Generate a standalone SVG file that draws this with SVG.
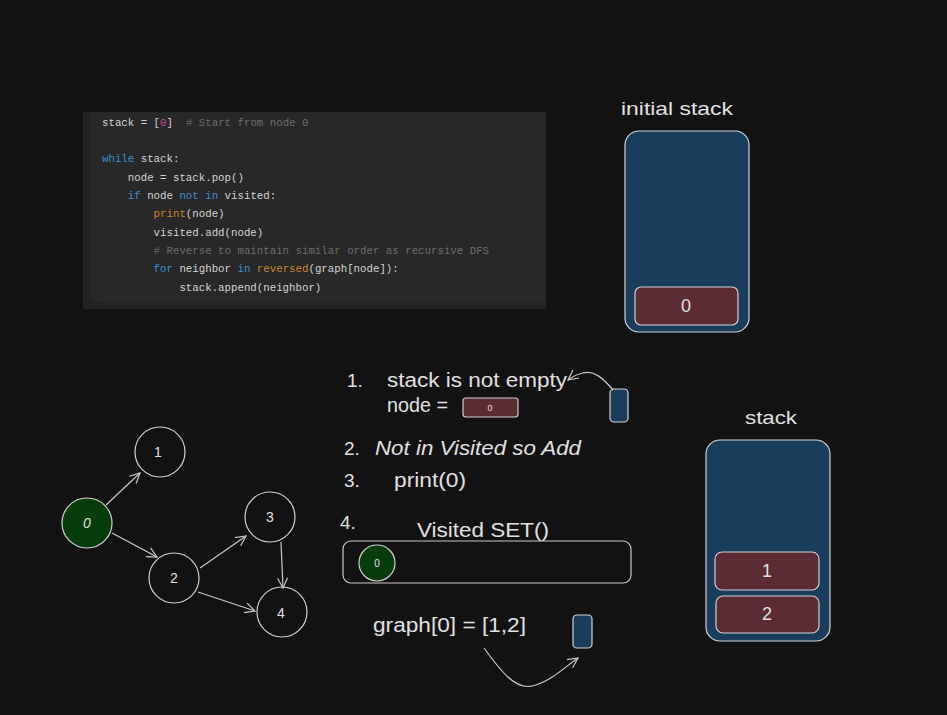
<svg xmlns="http://www.w3.org/2000/svg" width="947" height="715" viewBox="0 0 947 715">
<defs>
<style>
.hand{font-family:"Liberation Sans","Open Sans",sans-serif;fill:#e0e0e0;}
.code{font-family:"Liberation Mono","DejaVu Sans Mono",monospace;font-size:10.75px;fill:#d4d4d4;}
.kw{fill:#3d8fcf;}
.fn{fill:#c9872a;}
.num{fill:#c94f9a;}
.cm{fill:#6c6c6c;}
.stackbox{fill:#1a3d5c;stroke:#d2d2d2;stroke-width:1.2;}
.item{fill:#5b2c34;stroke:#cfcfcf;stroke-width:1.2;}
.node{fill:none;stroke:#d0d0d0;stroke-width:1.2;}
.green{fill:#073d0c;stroke:#d0d0d0;stroke-width:1.2;}
.edge{fill:none;stroke:#c8c8c8;stroke-width:1.2;marker-end:url(#ah);}
.lbl{font-family:"Liberation Sans","Open Sans",sans-serif;fill:#e0e0e0;text-anchor:middle;}
</style>
<marker id="ah" markerWidth="12" markerHeight="12" viewBox="0 0 12 12" refX="11" refY="6" orient="auto" markerUnits="userSpaceOnUse">
<path d="M1,1 L11,6 L1,11" fill="none" stroke="#c8c8c8" stroke-width="1.2"/>
</marker>
</defs>
<rect x="0" y="0" width="947" height="715" fill="#121212"/>

<g id="code-block">
<rect x="83" y="112" width="463" height="197" fill="#222222"/>
<path d="M90,112 H546 V303 H100 Q90,303 90,293 Z" fill="#282828"/>
<text class="code" xml:space="preserve"><tspan x="102" y="126">stack = [<tspan class="num">0</tspan>]  <tspan class="cm"># Start from node 0</tspan></tspan><tspan x="102" y="162.3"><tspan class="kw">while</tspan> stack:</tspan><tspan x="127.8" y="180.7">node = stack.pop()</tspan><tspan x="127.8" y="199"><tspan class="kw">if</tspan> node <tspan class="kw">not</tspan> <tspan class="kw">in</tspan> visited:</tspan><tspan x="153.6" y="217.3"><tspan class="fn">print</tspan>(node)</tspan><tspan x="153.6" y="235.7">visited.add(node)</tspan><tspan x="153.6" y="254" class="cm"># Reverse to maintain similar order as recursive DFS</tspan><tspan x="153.6" y="272.3"><tspan class="kw">for</tspan> neighbor <tspan class="kw">in</tspan> <tspan class="fn">reversed</tspan>(graph[node]):</tspan><tspan x="179.4" y="290.7">stack.append(neighbor)</tspan></text>
</g>

<g id="initial-stack">
<text class="hand" x="621" y="115" font-size="19" textLength="112" lengthAdjust="spacingAndGlyphs">initial stack</text>
<rect class="stackbox" x="625" y="131" width="124" height="201" rx="14"/>
<rect class="item" x="635" y="287" width="103" height="38" rx="6"/>
<text class="lbl" x="686" y="312" font-size="18">0</text>
</g>

<g id="stack">
<text class="hand" x="745" y="424" font-size="19" textLength="52" lengthAdjust="spacingAndGlyphs">stack</text>
<rect class="stackbox" x="706" y="440" width="124" height="201" rx="14"/>
<rect class="item" x="715" y="552" width="104" height="38" rx="7"/>
<text class="lbl" x="767" y="577" font-size="18">1</text>
<rect class="item" x="716" y="596" width="103" height="37" rx="7"/>
<text class="lbl" x="767" y="620" font-size="18">2</text>
</g>

<g id="step1">
<text class="hand" x="347" y="387" font-size="19">1.</text>
<text class="hand" x="387" y="387" font-size="20" textLength="180" lengthAdjust="spacingAndGlyphs">stack is not empty</text>
<text class="hand" x="387" y="412" font-size="20" textLength="61" lengthAdjust="spacingAndGlyphs">node =</text>
<rect class="item" x="463" y="398" width="55" height="19" rx="3"/>
<text class="lbl" x="490" y="411" font-size="9">0</text>
</g>

<g id="mini-stack-1">
<rect class="stackbox" x="610" y="389" width="18" height="33" rx="4"/>
</g>

<g id="step2">
<text class="hand" x="344" y="455" font-size="19">2.</text>
<text class="hand" x="375" y="455" font-size="20" font-style="italic" textLength="206" lengthAdjust="spacingAndGlyphs">Not in Visited so Add</text>
</g>

<g id="step3">
<text class="hand" x="344" y="487" font-size="19">3.</text>
<text class="hand" x="394" y="487" font-size="20" textLength="72" lengthAdjust="spacingAndGlyphs">print(0)</text>
</g>

<g id="step4">
<text class="hand" x="340" y="529" font-size="19">4.</text>
<text class="hand" x="417" y="537" font-size="20" textLength="132" lengthAdjust="spacingAndGlyphs">Visited SET()</text>
<rect x="343" y="541" width="288" height="42" rx="8" fill="none" stroke="#c8c8c8" stroke-width="1.2"/>
<circle class="green" cx="377" cy="563" r="18"/>
<text class="lbl" x="377" y="567" font-size="10">0</text>
</g>

<g id="graph-line">
<text class="hand" x="373" y="632" font-size="20" textLength="153" lengthAdjust="spacingAndGlyphs">graph[0] = [1,2]</text>
</g>

<g id="mini-stack-2">
<rect class="stackbox" x="573" y="615" width="19" height="33" rx="4"/>
</g>

<g id="node-0"><circle class="green" cx="87" cy="523" r="25"/><text class="lbl" x="87" y="528" font-size="14" font-style="italic">0</text></g>
<g id="node-1"><circle class="node" cx="160" cy="452" r="25"/><text class="lbl" x="158" y="457" font-size="14">1</text></g>
<g id="node-2"><circle class="node" cx="174" cy="578" r="25"/><text class="lbl" x="174" y="583" font-size="14">2</text></g>
<g id="node-3"><circle class="node" cx="270" cy="517" r="25"/><text class="lbl" x="270" y="522" font-size="14">3</text></g>
<g id="node-4"><circle class="node" cx="282" cy="612" r="25"/><text class="lbl" x="281" y="618" font-size="14">4</text></g>

<g id="connectors">
<path class="edge" d="M106,505 L140,473"/>
<path class="edge" d="M112,533 L157,557"/>
<path class="edge" d="M200,568 L246,536"/>
<path class="edge" d="M281,542 L283,588"/>
<path class="edge" d="M198,592 L255,611"/>
<path class="edge" d="M613,390 C603,378 594,370 583,373 C577,374 572,377 568,380"/>
<path class="edge" d="M484,648 C500,670 515,690 532,686 C550,682 565,667 578,658"/>
</g>
</svg>
